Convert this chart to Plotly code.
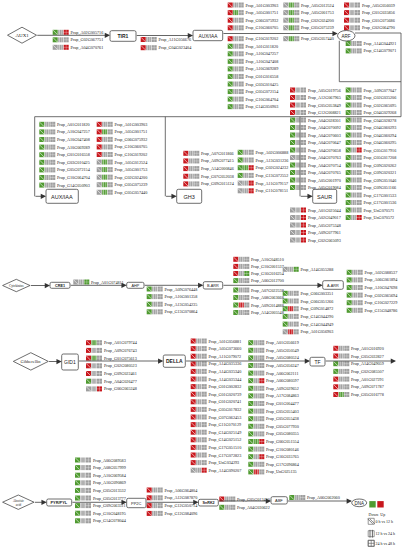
import plotly.graph_objects as go

# ---- expression data ----
# one string per gene, one letter per comparison (0h/12h, 12h/24h, 24h/48h)
# g = down (green), r = up (red), n = not significant (grey)

AUX1_TIR1_GENES = ["Prup_A02G005716", "Prup_G02G067751", "Prup_A04G070761"]
AUX1_TIR1_STATE = ["gnr", "gnn", "nnr"]

TIR1_IAA_GENES = ["Prup_A11G056676", "Prup_G04G023404"]
TIR1_IAA_STATE = ["rnn", "rnn"]

IAA_RED_GENES = ["Prup_A01G003903", "Prup_A05G001751", "Prup_G06G075932", "Prup_G10G060705"]
IAA_RED_STATE = ["rnn", "rgn", "rnn", "rnn"]

IAA_MIX_GENES = ["Prup_G10G019202", "Prup_A01G011820", "Prup_A10G047257", "Prup_A10G047408",
                 "Prup_A10G069289", "Prup_G01G016558", "Prup_G03G010425", "Prup_G05G072154",
                 "Prup_G10G064704", "Prup_G14G050903"]
IAA_MIX_STATE = ["rnn"] + ["gnn"] * 9

IAA_B1_GENES = ["Prup_A05G012524", "Prup_A05G001753", "Prup_G02G024200", "Prup_G05G075239"]
IAA_B1_STATE = ["ngn"] * 4
IAA_B2_GENES = ["Prup_G05G057440"]
IAA_B2_STATE = ["ngn"]

ARF_TOP_GENES = ["Prup_A05G056039", "Prup_G01G035856", "Prup_G01G075686", "Prup_G02G064790"]
ARF_TOP_STATE = ["rnn"] * 4
ARF_BOX_GENES = ["Prup_A14G044921", "Prup_G14G079071"]
ARF_BOX_STATE = ["gnn", "gnn"]

LOW_IAA1_GENES = ["Prup_A01G011820", "Prup_A10G047257", "Prup_A10G047408", "Prup_A10G069289",
                  "Prup_G01G016558", "Prup_G03G010425", "Prup_G05G072154", "Prup_G10G064704",
                  "Prup_G14G050903"]
LOW_IAA1_STATE = ["gnn"] * 9
LOW_IAA2_GENES = ["Prup_A01G003903", "Prup_A05G001751", "Prup_G06G075932", "Prup_G10G060705",
                  "Prup_G10G019202", "Prup_A05G012524", "Prup_A05G001753", "Prup_G02G024200",
                  "Prup_G05G075239", "Prup_G05G057440"]
LOW_IAA2_STATE = ["rnn", "rgn", "rnn", "rnn", "rnn", "ngn", "ngn", "ngn", "ngn", "ngn"]

GH3_1_GENES = ["Prup_A07G011866", "Prup_A09G077415", "Prup_A14G000846", "Prup_G07G052038",
               "Prup_G09G015124"]
GH3_1_STATE = ["rnn"] * 5
GH3_2_GENES = ["Prup_A02G006888", "Prup_A13G031236", "Prup_G02G024232", "Prup_G13G072552",
               "Prup_A11G079157", "Prup_G11G078151"]
GH3_2_STATE = ["gnn", "gnn", "ggr", "gnn", "nnr", "nnr"]

SAUR_GENES = ["Prup_A05G019756", "Prup_A12G067965", "Prup_G05G053849", "Prup_G12G008821",
              "Prup_A04G028301", "Prup_A04G070092", "Prup_A04G070603", "Prup_A04G070647",
              "Prup_A04G070658", "Prup_A04G070763", "Prup_A04G070754", "Prup_A04G070765",
              "Prup_A05G001970", "Prup_A05G019084"]
SAUR_STATE = ["rnn"] * 4 + ["gnn"] * 5 + ["nnn"] + ["gnn"] * 4

SAUR_R_GENES = ["Prup_A09G077047", "Prup_G02G035206", "Prup_G02G065095", "Prup_G04G029268",
                "Prup_G04G028278", "Prup_G04G060293", "Prup_G04G060294", "Prup_G04G060295",
                "Prup_G05G017916", "Prup_G05G017208", "Prup_G09G020262", "Prup_G09G020321",
                "Prup_G09G051046", "Prup_G09G051166", "Prup_G17G001533", "Prup_G17G001536",
                "Prup_UnG070571", "Prup_UnG070572"]
SAUR_R_STATE = ["gnn"] * 8 + ["gnr"] + ["gnn"] * 8 + ["gnr"]

SAUR_LOW_GENES = ["Prup_A01G025044", "Prup_A02G049017", "Prup_A05G075348", "Prup_A09G077961",
                  "Prup_G02G065093"]
SAUR_LOW_STATE = ["nnr"] * 5

CRE1_GENES = ["Prup_A01G074811"]
CRE1_STATE = ["nng"]
AHP_GENES = ["Prup_A09G076448", "Prup_A10G001358", "Prup_A13G054235", "Prup_G13G070864"]
AHP_STATE = ["gnn"] * 4
BARR_UP_GENES = ["Prup_A10G048510", "Prup_G10G001537", "Prup_G16G016254", "Prup_A06G012700"]
BARR_UP_STATE = ["rnn", "rnn", "rng", "gnn"]
BARR_DN_GENES = ["Prup_A07G022538", "Prup_A08G063668", "Prup_A09G014888", "Prup_A14G005548"]
BARR_DN_STATE = ["gnn", "gnn", "grn", "gnn"]
BARR_2A_GENES = ["Prup_A14G055288"]
BARR_2A_STATE = ["nng"]
BARR_2B_GENES = ["Prup_G06G003351", "Prup_G06G051266", "Prup_G09G014872", "Prup_G14G044290",
                 "Prup_G14G044949", "Prup_A01G056903"]
BARR_2B_STATE = ["gnn", "gnn", "grn", "gnn", "gnn", "nrn"]
AARR_GENES = ["Prup_A02G088537", "Prup_A06G061894", "Prup_A10G047698", "Prup_G02G065694",
              "Prup_G10G027229", "Prup_G15G048786"]
AARR_STATE = ["gnn"] * 6

GID1_GENES = ["Prup_A01G079744", "Prup_A09G076743", "Prup_G01G075613", "Prup_G02G080523",
              "Prup_G09G022461", "Prup_A04G026477", "Prup_G06G065248"]
GID1_STATE = ["rgn", "rnn", "rgn", "rnn", "rnn", "gnn", "nnr"]
DELLA1_GENES = ["Prup_A01G056881", "Prup_A05G073660", "Prup_A11G079072", "Prup_A14G035336",
                "Prup_A14G035340", "Prup_A14G035344", "Prup_G01G002832", "Prup_G01G020739",
                "Prup_G01G020741", "Prup_G05G017832", "Prup_G07G062453", "Prup_G11G070129",
                "Prup_G14G025149", "Prup_G14G025152", "Prup_G17G051510", "Prup_G17G072823",
                "Prup_UnG034293", "Prup_A14G090207"]
DELLA1_STATE = ["rnn"] * 17 + ["nnr"]
DELLA2_GENES = ["Prup_A01G056619", "Prup_A05G050549", "Prup_A05G080524", "Prup_A05G056247",
                "Prup_A06G062111", "Prup_A06G080597", "Prup_A09G029652", "Prup_A17G084863",
                "Prup_G01G004477", "Prup_G05G055403", "Prup_G05G055438", "Prup_G05G077930",
                "Prup_G05G080355", "Prup_G06G051554", "Prup_G10G080146", "Prup_G16G035765",
                "Prup_G17G096864", "Prup_UnG025135"]
DELLA2_STATE = ["gnn"] * 5 + ["gnr"] + ["gnn"] * 7 + ["ggr", "gnn", "gnr", "gnn", "grn"]
TF_GENES = ["Prup_A01G016920", "Prup_G05G032827", "Prup_A14G049059", "Prup_G02G085507",
            "Prup_A01G027291", "Prup_A09G071787", "Prup_G05G016778"]
TF_STATE = ["rnn", "rnn", "gnn", "gnn", "rnn", "rnn", "rgn"]

PYR_GENES = ["Prup_A06G089583", "Prup_A08G057999", "Prup_A10G069584", "Prup_A16G090869",
             "Prup_G05G013532", "Prup_G05G013777", "Prup_G09G063511", "Prup_G10G048195",
             "Prup_G14G078044"]
PYR_STATE = ["gnn"] * 9
PP2C_GENES = ["Prup_A06G064804", "Prup_A12G087870", "Prup_G12G050714", "Prup_G12G084096"]
PP2C_STATE = ["rnn"] * 4
SNRK2_GENES = ["Prup_G05G013420", "Prup_A04G030622"]
SNRK2_STATE = ["rnn", "gnn"]
ABF_GENES = ["Prup_A06G062060"]
ABF_STATE = ["gnn"]

# ---- diagram layout (page pixels) ----
GROUPS = [  # genes, states, left x, first row y, row step
    (AUX1_TIR1_GENES, AUX1_TIR1_STATE, 52.7, 32.3, 7.5),
    (TIR1_IAA_GENES, TIR1_IAA_STATE, 140.7, 39.5, 8.2),
    (IAA_RED_GENES, IAA_RED_STATE, 227.7, 5.0, 7.6),
    (IAA_MIX_GENES, IAA_MIX_STATE, 227.7, 38.7, 7.55),
    (IAA_B1_GENES, IAA_B1_STATE, 283.3, 5.0, 7.6),
    (IAA_B2_GENES, IAA_B2_STATE, 283.3, 38.7, 7.6),
    (ARF_TOP_GENES, ARF_TOP_STATE, 344.0, 5.0, 7.6),
    (ARF_BOX_GENES, ARF_BOX_STATE, 345.7, 43.5, 7.4),
    (LOW_IAA1_GENES, LOW_IAA1_STATE, 39.3, 124.3, 7.6),
    (LOW_IAA2_GENES, LOW_IAA2_STATE, 96.7, 124.3, 7.55),
    (GH3_1_GENES, GH3_1_STATE, 183.3, 153.3, 7.65),
    (GH3_2_GENES, GH3_2_STATE, 237.7, 152.3, 7.7),
    (SAUR_GENES, SAUR_STATE, 290.0, 90.0, 7.5),
    (SAUR_R_GENES, SAUR_R_STATE, 345.7, 90.0, 7.5),
    (SAUR_LOW_GENES, SAUR_LOW_STATE, 290.0, 210.0, 7.5),
    (CRE1_GENES, CRE1_STATE, 73.3, 282.0, 7.5),
    (AHP_GENES, AHP_STATE, 146.7, 289.0, 7.6),
    (BARR_UP_GENES, BARR_UP_STATE, 233.3, 259.3, 7.1),
    (BARR_DN_GENES, BARR_DN_STATE, 233.3, 290.0, 7.5),
    (BARR_2A_GENES, BARR_2A_STATE, 282.7, 269.3, 7.5),
    (BARR_2B_GENES, BARR_2B_STATE, 282.7, 293.3, 7.7),
    (AARR_GENES, AARR_STATE, 346.7, 272.3, 7.6),
    (GID1_GENES, GID1_STATE, 86.0, 342.7, 7.7),
    (DELLA1_GENES, DELLA1_STATE, 190.7, 341.0, 7.6),
    (DELLA2_GENES, DELLA2_STATE, 248.3, 342.7, 7.6),
    (TF_GENES, TF_STATE, 333.3, 348.3, 7.7),
    (PYR_GENES, PYR_STATE, 75.0, 460.0, 7.6),
    (PP2C_GENES, PP2C_STATE, 146.7, 490.0, 7.8),
    (SNRK2_GENES, SNRK2_STATE, 219.3, 499.0, 8.3),
    (ABF_GENES, ABF_STATE, 289.3, 497.5, 7.5),
]

BOXES = [  # text, x0, y0, x1, y1, bold, font size
    ("TIR1", 110, 30.7, 136, 41.3, True, 5),
    ("AUX/IAA", 193, 30.3, 222.7, 40.7, False, 4.8),
    ("AUX/IAA", 46, 189.3, 78.3, 203.3, False, 5.5),
    ("GH3", 176.7, 189.3, 201.7, 203.3, False, 5.5),
    ("SAUR", 312.7, 189.3, 336.7, 203.3, False, 5.5),
    ("CRE1", 50, 282.3, 70, 288.3, True, 3.8),
    ("AHP", 126.7, 282.3, 144, 288.3, False, 3.8),
    ("B-ARR", 203.3, 281.7, 222.7, 289, False, 3.8),
    ("A-ARR", 322.7, 280.7, 343.3, 289.3, False, 3.8),
    ("GID1", 61.7, 354, 78.3, 370, False, 5),
    ("DELLA", 163.3, 355, 185.3, 367.3, True, 5),
    ("TF", 310, 357.3, 325, 366, False, 5),
    ("PYR/PYL", 46.7, 499, 71.7, 506, True, 3.9),
    ("PP2C", 126.7, 498.3, 146, 507.7, False, 4),
    ("SnRK2", 198.5, 499.3, 218.3, 506, True, 3.7),
    ("ABF", 271, 496.7, 287.3, 504, False, 4),
]

DIAMONDS = [  # text, cx, cy, half width, half height, font size
    ("AUX1", 22, 35.2, 14.5, 8, 5),
    ("Cytokinins", 16.3, 285.5, 13.7, 6.2, 3.3),
    ("Gibberellin", 30.8, 361.4, 17.5, 8.7, 4.4),
    ("Abscisic<br>acid", 18.3, 502.2, 15.7, 7.2, 3.2),
]

ELLIPSES = [  # text, x0, y0, x1, y1
    ("ARF", 337.5, 30.5, 355, 41),
    ("DNA", 351.7, 499, 366.7, 506.7),
]

LINES = [
    (34.7, 116.7, 401, 116.7), (34.7, 116.7, 34.7, 196.3), (165.3, 116.7, 165.3, 196.3),
    (300, 116.7, 300, 196.3), (401, 33, 401, 116.7), (355, 33, 401, 33),
    (339.3, 40.8, 339.3, 81.7), (339.3, 81.7, 401, 81.7),
]

ARROWS = [  # tail x, tail y, head x, head y
    (36.5, 35.3, 110, 35.3), (136, 35.5, 193, 35.5), (222.7, 33.5, 337.7, 33.5),
    (34.7, 196.3, 46, 196.3), (165.3, 196.3, 176.7, 196.3), (300, 196.3, 312.7, 196.3),
    (30, 285.5, 50, 285.5), (70, 285.3, 126.7, 285.3), (144, 285.3, 203.3, 285.3),
    (222.7, 285.3, 322.7, 285.3),
    (48.3, 361.5, 61.7, 361.5), (78.3, 361, 163.3, 361), (185.3, 361, 310, 361),
    (325, 361, 396, 361),
    (34, 502.3, 46.7, 502.3), (71.7, 502.3, 126.7, 502.3), (146, 502.3, 198.5, 502.3),
    (218.3, 501, 271, 501), (287.3, 501, 351.9, 501),
]

COLORS = {"g": "#4f9a30", "r": "#c8171d", "n": "#9e9e9e"}
EDGE = "#4a4a4a"
CELL = 5.0
STEP = 5.5

# the page is drawn at K times the size and shrunk back in the browser,
# otherwise the browser's minimum font size blows up the tiny gene labels
K = 2
W, H = 403, 550

fig = go.Figure()

cx, cy, cc = [], [], []
pat = {0: ([], []), 1: ([], []), 2: ([], [])}
annotations = []
for genes, states, x0, y0, dy in GROUPS:
    for i, (gene, st) in enumerate(zip(genes, states)):
        y = y0 + i * dy
        for k, s in enumerate(st):
            x = x0 + CELL / 2 + k * STEP
            cx.append(x)
            cy.append(y)
            cc.append(COLORS[s])
            if k == 1:
                pat[1][0].extend([x - 1.1, x + 1.1])
                pat[1][1].extend([y, y])
            else:
                pat[k][0].append(x)
                pat[k][1].append(y)
        annotations.append(dict(x=x0 + 17.4, y=y, text=gene, showarrow=False,
                                xanchor="left", yanchor="middle", borderpad=0,
                                font=dict(family="Liberation Serif", size=4.2 * K, color="#222")))

fig.add_trace(go.Scatter(x=cx, y=cy, mode="markers", hoverinfo="skip",
                         marker=dict(symbol="square", size=CELL * K, color=cc, line=dict(width=0))))
for k, sym, w in [(0, "line-nw", 0.7), (1, "line-ns", 0.6), (2, "cross-thin", 0.35)]:
    fig.add_trace(go.Scatter(x=pat[k][0], y=pat[k][1], mode="markers", hoverinfo="skip",
                             marker=dict(symbol=sym, size=4.4 * K, color="white",
                                         line=dict(width=w * K, color="rgba(255,255,255,0.85)"))))

shapes = []


def rounded(x0, y0, x1, y1, r=1.6):
    return (f"M{x0 + r},{y0} L{x1 - r},{y0} Q{x1},{y0} {x1},{y0 + r} L{x1},{y1 - r} "
            f"Q{x1},{y1} {x1 - r},{y1} L{x0 + r},{y1} Q{x0},{y1} {x0},{y1 - r} "
            f"L{x0},{y0 + r} Q{x0},{y0} {x0 + r},{y0} Z")


for x0, y0, x1, y1 in LINES:
    shapes.append(dict(type="line", x0=x0, y0=y0, x1=x1, y1=y1,
                       line=dict(color=EDGE, width=0.8 * K)))

for text, x0, y0, x1, y1, bold, size in BOXES:
    shapes.append(dict(type="path", path=rounded(x0, y0, x1, y1), fillcolor="white",
                       line=dict(color=EDGE, width=0.8 * K)))
    annotations.append(dict(x=(x0 + x1) / 2, y=(y0 + y1) / 2, showarrow=False,
                            text=f"<b>{text}</b>" if bold else text,
                            font=dict(family="Liberation Sans", size=size * K, color="#222")))

for text, xc, yc, hw, hh, size in DIAMONDS:
    shapes.append(dict(type="path", fillcolor="white", line=dict(color=EDGE, width=0.8 * K),
                       path=f"M{xc - hw},{yc} L{xc},{yc - hh} L{xc + hw},{yc} L{xc},{yc + hh} Z"))
    annotations.append(dict(x=xc, y=yc, text=text, showarrow=False,
                            font=dict(family="Liberation Serif", size=size * K, color="#222")))

for text, x0, y0, x1, y1 in ELLIPSES:
    shapes.append(dict(type="circle", x0=x0, y0=y0, x1=x1, y1=y1, fillcolor="white",
                       line=dict(color=EDGE, width=0.8 * K)))
    annotations.append(dict(x=(x0 + x1) / 2, y=(y0 + y1) / 2, text=text, showarrow=False,
                            font=dict(family="Liberation Sans", size=4.5 * K, color="#222")))

for tx, ty, hx, hy in ARROWS:
    annotations.append(dict(x=hx, y=hy, ax=tx, ay=ty, xref="x", yref="y", axref="x", ayref="y",
                            text="", showarrow=True, arrowhead=2, arrowsize=1.4,
                            arrowwidth=0.75 * K, arrowcolor="#333", standoff=0))

# ---- legend ----
fig.add_trace(go.Scatter(x=[372.5, 380.5], y=[504.3, 504.3], mode="markers", hoverinfo="skip",
                         marker=dict(symbol="square", size=6.4 * K,
                                     color=[COLORS["g"], COLORS["r"]])))
annotations.append(dict(x=376.5, y=514, text="Down  Up", showarrow=False,
                        font=dict(family="Liberation Serif", size=4 * K, color="#222")))
LEG_Y = [521.3, 533.7, 543.3]
LEG_TEXT = ["0 h vs 12 h", "12 h vs 24 h", "24 h vs 48 h"]
LEG_INK = "#555"
fig.add_trace(go.Scatter(x=[371.2] * 3, y=LEG_Y, mode="markers", hoverinfo="skip",
                         marker=dict(symbol="square", size=6 * K, color="white",
                                     line=dict(width=0.6 * K, color=LEG_INK))))
fig.add_trace(go.Scatter(x=[370.2, 372.2], y=[LEG_Y[0]] * 2, mode="markers", hoverinfo="skip",
                         marker=dict(symbol="line-nw", size=5 * K, color=LEG_INK,
                                     line=dict(width=0.7 * K, color=LEG_INK))))
fig.add_trace(go.Scatter(x=[370.0, 372.4], y=[LEG_Y[1]] * 2, mode="markers", hoverinfo="skip",
                         marker=dict(symbol="line-ns", size=5.5 * K, color=LEG_INK,
                                     line=dict(width=0.9 * K, color=LEG_INK))))
fig.add_trace(go.Scatter(x=[371.2], y=[LEG_Y[2]], mode="markers", hoverinfo="skip",
                         marker=dict(symbol="square-cross-open", size=6 * K, color=LEG_INK,
                                     line=dict(width=0.6 * K, color=LEG_INK))))
for y, t in zip(LEG_Y, LEG_TEXT):
    annotations.append(dict(x=375.2, y=y, text=t, showarrow=False, xanchor="left",
                            borderpad=0,
                            font=dict(family="Liberation Serif", size=4 * K, color="#222")))

fig.update_layout(
    width=W * K, height=H * K,
    margin=dict(l=0, r=0, t=0, b=0),
    paper_bgcolor="white", plot_bgcolor="white",
    showlegend=False,
    xaxis=dict(range=[0, W], visible=False, fixedrange=True),
    yaxis=dict(range=[H, 0], visible=False, fixedrange=True),
    shapes=shapes,
    annotations=annotations,
)

shrink = (
    "var gd = document.getElementById('{plot_id}');"
    "document.documentElement.style.overflow = 'hidden';"
    "document.body.style.margin = '0';"
    "document.body.style.overflow = 'hidden';"
    "gd.style.transformOrigin = '0 0';"
    f"gd.style.transform = 'scale({1 / K})';"
)

fig.write_html("out.html", post_script=shrink, config={"displayModeBar": False})
